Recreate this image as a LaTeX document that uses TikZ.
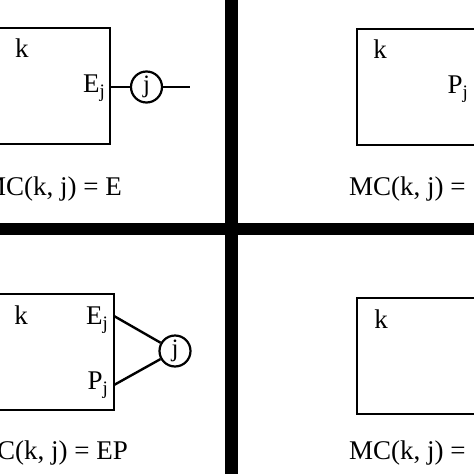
\documentclass[tikz,border=0pt]{standalone}
\usepackage{fontspec}
\setmainfont{Liberation Serif}
\usetikzlibrary{positioning}
\newcommand{\lowj}{\raisebox{-5pt}{\fontsize{19}{19}\selectfont j}}
\tikzset{
    blockbox/.style={draw, line width=2.6pt, minimum width=120pt, minimum height=116pt, inner sep=0pt},
    portnode/.style={draw, circle, line width=2.2pt, minimum size=31pt, inner sep=0pt, font=\fontsize{25}{25}\selectfont},
    wire/.style={line width=2.4pt},
    divider/.style={line width=12.5pt}
}

\begin{document}
\begin{tikzpicture}[x=1pt, y=-1pt]
    \useasboundingbox (0,0) rectangle (474,474);
    \clip (0,0) rectangle (474,474);
    \tikzstyle{every node}=[font=\fontsize{27}{32}\selectfont];
    % upper left: E
    \node[blockbox] (k1) at (50,86) {};
    \node[anchor=base] (k1t) at (22,57) {k};
    \node[anchor=base east, inner sep=0pt] (e1) at (105,92) {E\lowj};
    \node[portnode] (j1) at (146.5,87) {j};
    \coordinate (o1) at (190,87);
    \draw[wire] (k1.east |- j1) -- (j1);
    \draw[wire] (j1) -- (o1);
    \node[anchor=base] (mc1) at (52,195) {MC(k, j) = E};
    % upper right: P
    \node[blockbox] (k2) at (417,87) {};
    \node[anchor=base] (k2t) at (380,58) {k};
    \node[anchor=base east, inner sep=0pt] (p2) at (468,93) {P\lowj};
    \node[anchor=base west, inner sep=0pt] (mc2) at (349,195) {MC(k, j) =};
    % lower left: EP
    \node[blockbox] (k3) at (54,352) {};
    \node[anchor=base] (k3t) at (21,324) {k};
    \node[anchor=base east, inner sep=0pt] (e3) at (108,324) {E\lowj};
    \node[anchor=base east, inner sep=0pt] (p3) at (108,389) {P\lowj};
    \node[portnode] (j3) at (175,351) {j};
    \coordinate (e3p) at (114,316);
    \coordinate (p3p) at (114,385);
    \draw[wire] (e3p) -- (j3);
    \draw[wire] (p3p) -- (j3);
    \node[anchor=base] (mc3) at (50.5,459) {MC(k, j) = EP};
    % lower right
    \node[blockbox] (k4) at (417,356) {};
    \node[anchor=base] (k4t) at (381,328) {k};
    \node[anchor=base west, inner sep=0pt] (mc4) at (349,459) {MC(k, j) =};
    % dividers
    \draw[divider] (231.5,0) -- (231.5,474);
    \draw[divider] (0,229) -- (474,229);
\end{tikzpicture}
\end{document}
